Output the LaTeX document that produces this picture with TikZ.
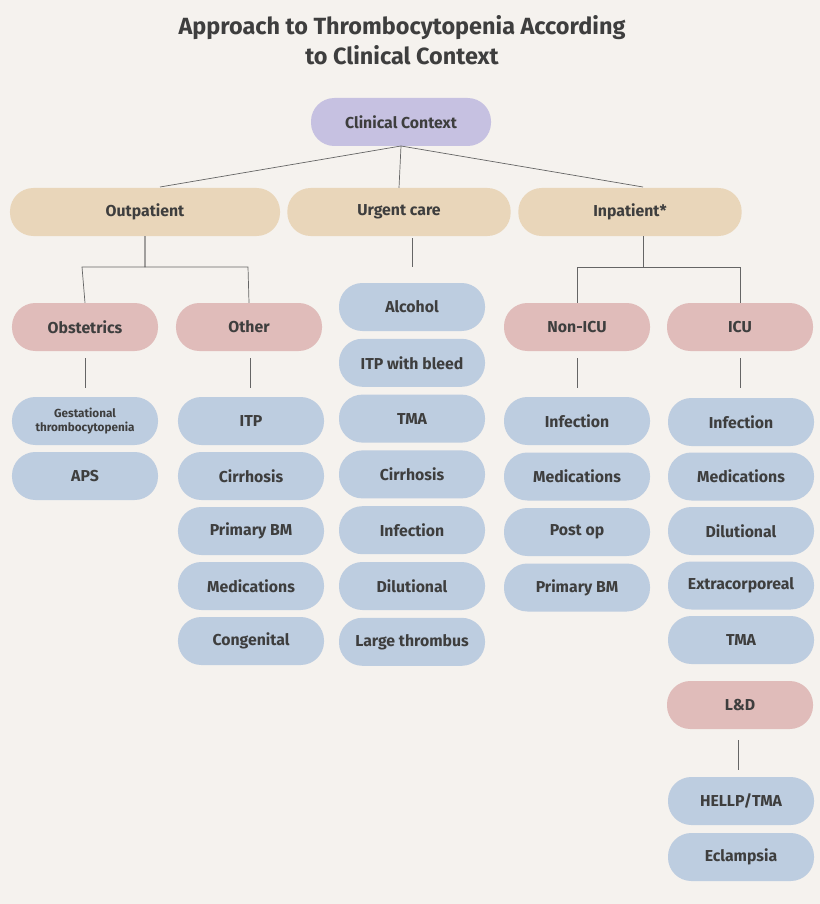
\documentclass[tikz,border=0pt]{standalone}
\usepackage{fontspec}
\setmainfont{Fira Sans}
\definecolor{bg}{HTML}{F5F2EE}
\definecolor{ink}{HTML}{3E3E3E}
\definecolor{purp}{HTML}{C6C1E1}
\definecolor{tan}{HTML}{E9D6BA}
\definecolor{pinkc}{HTML}{E0BCBA}
\definecolor{bluec}{HTML}{BDCDE0}
\tikzset{
  box/.style={rounded corners=0.7cm, minimum height=1.44cm, minimum width=4.38cm,
    text=ink, font=\fontsize{13.5}{15}\selectfont\bfseries, inner sep=2pt, align=center},
  ctx/.style={box, fill=purp, minimum width=5.4cm},
  setting/.style={box, fill=tan},
  group/.style={box, fill=pinkc},
  cause/.style={box, fill=bluec},
  link/.style={draw=ink!80, line width=0.6pt}
}
\begin{document}
\begin{tikzpicture}[x=0.03cm,y=-0.03cm]
  \fill[bg] (0,0) rectangle (820,904);
  \node[text=ink, font=\fontsize{20}{25.5}\selectfont\bfseries, align=center] (title) at (402,40)
    {Approach to Thrombocytopenia According\\to Clinical Context};

  % top levels
  \node[ctx] (context) at (401,122) {Clinical Context};
  \node[setting, minimum width=8.1cm] (outp) at (145,212) {Outpatient};
  \node[setting, minimum width=6.7cm] (urgent) at (399,212) {Urgent care};
  \node[setting, minimum width=6.7cm] (inp) at (630,212) {Inpatient*};

  \node[group] (obst) at (85,327) {Obstetrics};
  \node[group] (other) at (249,327) {Other};
  \node[group] (nonicu) at (577,327) {Non-ICU};
  \node[group] (icu) at (740,327) {ICU};

  % cause columns
  \node[cause, font=\fontsize{10}{12.5}\selectfont\bfseries] (gest) at (85,421) {Gestational\\thrombocytopenia};
  \node[cause] (aps) at (85,476) {APS};

  \foreach \name/\txt [count=\i from 0] in {itp/ITP, cirr/Cirrhosis, pbm/Primary BM, med/Medications, cong/Congenital}
    \node[cause] (other-\name) at (251,421+55*\i) {\txt};

  \foreach \name/\txt [count=\i from 0] in {alc/Alcohol, itpb/ITP with bleed, tma/TMA, cirr/Cirrhosis, inf/Infection, dil/Dilutional, thr/Large thrombus}
    \node[cause] (urg-\name) at (412,307+55.8*\i) {\txt};

  \foreach \name/\txt [count=\i from 0] in {inf/Infection, med/Medications, post/Post op, pbm/Primary BM}
    \node[cause] (non-\name) at (577,421+55.5*\i) {\txt};

  \foreach \name/\txt [count=\i from 0] in {inf/Infection, med/Medications, dil/Dilutional, ecc/Extracorporeal, tma/TMA}
    \node[cause] (icu-\name) at (741,422+54.5*\i) {\txt};
  \node[group] (ld) at (740,705) {L\&D};
  \node[cause] (hellp) at (741,801) {HELLP/TMA};
  \node[cause] (ecl) at (741,857) {Eclampsia};

  % connectors
  \coordinate (hub) at (401,146);
  \draw[link] (hub) -- (160,187);
  \draw[link] (hub) -- (urgent.north);
  \draw[link] (hub) -- (643,187);

  \draw[link] (outp.south) |- (82,267) -- (obst.north);
  \draw[link] (outp.south) |- (248,267) -- (other.north);
  \draw[link] (643,236) |- (577,267) -- (nonicu.north);
  \draw[link] (643,236) |- (740,267) -- (icu.north);

  \coordinate (urgtop) at (412,238);
  \draw[link] (urgtop) -- (412,267);
  \foreach \n/\x in {obst/85, other/250, nonicu/577, icu/740}
    \draw[link] (\x,358) -- (\x,388);
  \draw[link] (738,740) -- (738,770);
\end{tikzpicture}
\end{document}
